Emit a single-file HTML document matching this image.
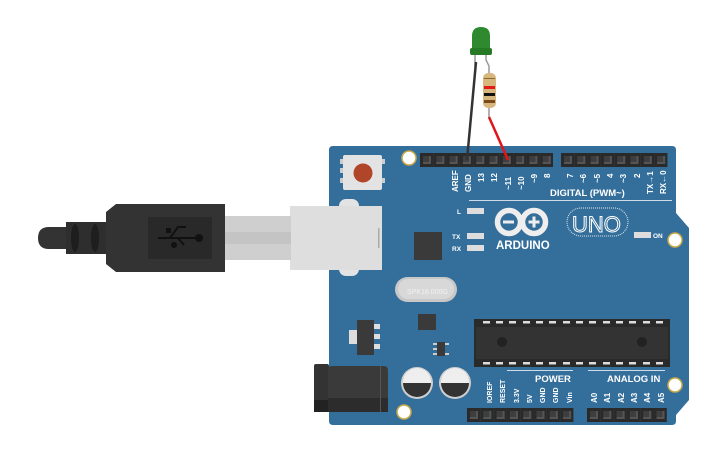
<!DOCTYPE html>
<html><head><meta charset="utf-8"><style>
html,body{margin:0;padding:0;background:#fff;}
svg{display:block;}
text{font-family:"Liberation Sans",sans-serif;font-weight:bold;fill:#fff;}
</style></head><body>
<svg width="725" height="453" viewBox="0 0 725 453" xmlns="http://www.w3.org/2000/svg">
<defs>
<g id="pin"><rect x="0" y="0" width="13.3" height="14" fill="#2a2a2a"/><rect x="3" y="3" width="8" height="8" fill="#3e3e3e"/><rect x="3" y="9" width="8" height="2" fill="#555"/><rect x="9" y="3" width="2" height="8" fill="#555"/></g>
</defs>
<!-- board -->
<path d="M333,146 L672,146 Q676,146 676,150 L676,213 L689,228 L689,400 L676,415 L676,421 Q676,425 672,425 L333,425 Q329,425 329,421 L329,150 Q329,146 333,146 Z" fill="#346f9b"/>
<g fill="#fff" stroke="#c9a84a" stroke-width="1.5">
<circle cx="409" cy="158" r="7"/><circle cx="675" cy="240" r="7"/><circle cx="675" cy="385" r="7"/><circle cx="404" cy="412" r="7"/>
</g>
<!-- reset button -->
<rect x="340" y="159" width="4" height="5" fill="#ccc"/><rect x="340" y="168" width="4" height="5" fill="#ccc"/><rect x="340" y="178" width="4" height="5" fill="#ccc"/>
<rect x="381" y="159" width="4" height="5" fill="#ccc"/><rect x="381" y="178" width="4" height="5" fill="#ccc"/>
<rect x="343" y="155" width="39" height="35" rx="2" fill="#e3e3e3"/>
<circle cx="363" cy="173" r="9.5" fill="#b1452a"/>
<!-- usb jack -->
<rect x="339" y="199" width="20" height="14" rx="7" fill="#e3e3e3"/>
<rect x="339" y="262" width="20" height="14" rx="7" fill="#e3e3e3"/>
<rect x="290" y="206" width="92" height="64" fill="#dedede"/>
<rect x="378" y="228" width="1.5" height="20" fill="#aaa"/>
<!-- usb plug -->
<rect x="225" y="216" width="66" height="44" fill="#cfcfcf"/>
<rect x="225" y="232" width="66" height="12" fill="#c4c4c4"/>
<path d="M38,238 Q38,227 49,227 L70,227 L70,249 L49,249 Q38,249 38,238Z" fill="#333"/>
<rect x="66" y="222" width="42" height="32" fill="#2e2e2e"/>
<ellipse cx="75" cy="238" rx="4" ry="14" fill="#1e1e1e"/><ellipse cx="95" cy="238" rx="4" ry="14" fill="#1e1e1e"/>
<path d="M106,212 L116,204 L225,204 L225,272 L116,272 L106,264 Z" fill="#333"/>
<rect x="148" y="217" width="64" height="42" fill="#292929"/>
<path d="M158,238 L200,238 M170,238 L178,227 L186,227 M178,238 L184,245" stroke="#111" stroke-width="2" fill="none"/>
<circle cx="199" cy="238" r="4" fill="#111"/><circle cx="174" cy="245" r="3" fill="#111"/><rect x="166" y="228" width="5" height="5" fill="#111"/>
<!-- headers top -->
<g transform="translate(420,153)">
<use href="#pin" x="0"/><use href="#pin" x="13.3"/><use href="#pin" x="26.6"/><use href="#pin" x="39.9"/><use href="#pin" x="53.2"/><use href="#pin" x="66.5"/><use href="#pin" x="79.8"/><use href="#pin" x="93.1"/><use href="#pin" x="106.4"/><use href="#pin" x="119.7"/>
</g>
<g transform="translate(561,153)">
<use href="#pin" x="0"/><use href="#pin" x="13.3"/><use href="#pin" x="26.6"/><use href="#pin" x="39.9"/><use href="#pin" x="53.2"/><use href="#pin" x="66.5"/><use href="#pin" x="79.8"/><use href="#pin" x="93.1"/>
</g>
<g font-size="8">
<text transform="translate(458,192) rotate(-90)">AREF</text>
<text transform="translate(471,192) rotate(-90)">GND</text>
<text transform="translate(484,182) rotate(-90)">13</text>
<text transform="translate(497,182) rotate(-90)">12</text>
<text transform="translate(511,190) rotate(-90)">~11</text>
<text transform="translate(524,190) rotate(-90)">~10</text>
<text transform="translate(537,183) rotate(-90)">~9</text>
<text transform="translate(550,178) rotate(-90)">8</text>
<text transform="translate(573,178) rotate(-90)">7</text>
<text transform="translate(586,183) rotate(-90)">~6</text>
<text transform="translate(600,183) rotate(-90)">~5</text>
<text transform="translate(613,178) rotate(-90)">4</text>
<text transform="translate(626,183) rotate(-90)">~3</text>
<text transform="translate(640,178) rotate(-90)">2</text>
<text transform="translate(653,194) rotate(-90)">TX→1</text>
<text transform="translate(666,194) rotate(-90)">RX←0</text>
</g>
<text x="550" y="196" font-size="9.5">DIGITAL (PWM~)</text>
<rect x="469" y="200" width="203" height="1" fill="#cfdbe6"/>
<g font-size="6.5"><text x="457" y="214">L</text><text x="452" y="239">TX</text><text x="452" y="251">RX</text><text x="653" y="238">ON</text></g>
<rect x="467" y="208" width="17" height="6" fill="#ddd"/><rect x="467" y="233" width="17" height="6" fill="#ddd"/><rect x="467" y="245" width="17" height="6" fill="#ddd"/><rect x="634" y="232" width="17" height="6" fill="#ddd"/>
<!-- arduino logo -->
<g fill="none" stroke="#eee" stroke-width="5.5">
<circle cx="509" cy="222" r="11.5"/><circle cx="534" cy="222" r="11.5"/>
</g>
<rect x="503" y="220.5" width="11" height="3" fill="#eee"/><rect x="528.5" y="220.5" width="11" height="3" fill="#eee"/><rect x="532.5" y="216.5" width="3" height="11" fill="#eee"/>
<text x="496" y="249" font-size="11.5">ARDUINO</text>
<rect x="567" y="208" width="61" height="28" rx="14" fill="none" stroke="#e6ecf2" stroke-dasharray="1,1"/>
<text x="572" y="232" font-size="22" style="font-weight:normal;fill:none;stroke:#fff;stroke-width:1">UNO</text>
<!-- chips -->
<rect x="414" y="232" width="28" height="28" fill="#3a3a3a"/>
<rect x="395" y="277" width="62" height="25" rx="12.5" fill="#c8c8c8"/>
<rect x="398" y="279" width="56" height="20" rx="10" fill="#d8d8d8"/>
<text x="407" y="294" font-size="7" style="fill:#f2f2f2;font-weight:normal">SPK16.000G</text>
<rect x="418" y="314" width="18" height="16" fill="#3a3a3a"/>
<rect x="437" y="342" width="8" height="14" fill="#3a3a3a"/>
<g fill="#ccc"><rect x="433" y="343" width="4" height="2"/><rect x="433" y="348" width="4" height="2"/><rect x="433" y="353" width="4" height="2"/><rect x="445" y="343" width="4" height="2"/><rect x="445" y="353" width="4" height="2"/></g>
<!-- main IC -->
<rect x="474" y="319" width="196" height="48" fill="#2a2a2a"/>
<rect x="476" y="327" width="192" height="32" fill="#333"/>
<g fill="#ddd">
<rect x="483" y="321" width="7" height="2.5"/><rect x="496" y="321" width="7" height="2.5"/><rect x="509" y="321" width="7" height="2.5"/><rect x="523" y="321" width="7" height="2.5"/><rect x="536" y="321" width="7" height="2.5"/><rect x="549" y="321" width="7" height="2.5"/><rect x="563" y="321" width="7" height="2.5"/><rect x="576" y="321" width="7" height="2.5"/><rect x="589" y="321" width="7" height="2.5"/><rect x="603" y="321" width="7" height="2.5"/><rect x="616" y="321" width="7" height="2.5"/><rect x="629" y="321" width="7" height="2.5"/><rect x="643" y="321" width="7" height="2.5"/><rect x="656" y="321" width="7" height="2.5"/>
<rect x="483" y="362" width="7" height="2.5"/><rect x="496" y="362" width="7" height="2.5"/><rect x="509" y="362" width="7" height="2.5"/><rect x="523" y="362" width="7" height="2.5"/><rect x="536" y="362" width="7" height="2.5"/><rect x="549" y="362" width="7" height="2.5"/><rect x="563" y="362" width="7" height="2.5"/><rect x="576" y="362" width="7" height="2.5"/><rect x="589" y="362" width="7" height="2.5"/><rect x="603" y="362" width="7" height="2.5"/><rect x="616" y="362" width="7" height="2.5"/><rect x="629" y="362" width="7" height="2.5"/><rect x="643" y="362" width="7" height="2.5"/><rect x="656" y="362" width="7" height="2.5"/>
</g>
<circle cx="502" cy="342" r="5" fill="#222"/><circle cx="642" cy="342" r="5" fill="#222"/>
<!-- regulator -->
<rect x="349" y="330" width="9" height="14" fill="#ddd"/>
<rect x="357" y="320" width="17" height="35" fill="#3a3a3a"/>
<g fill="#ddd"><rect x="374" y="324" width="6" height="5"/><rect x="374" y="334" width="6" height="5"/><rect x="374" y="344" width="6" height="5"/></g>
<!-- DC jack -->
<rect x="314" y="364" width="15" height="48" rx="2" fill="#333"/>
<rect x="314" y="400" width="15" height="12" fill="#222"/>
<rect x="328" y="366" width="60" height="46" rx="4" fill="#3a3a3a"/>
<rect x="328" y="398" width="60" height="14" fill="#2c2c2c"/>
<rect x="380" y="366" width="1" height="46" fill="#555"/>
<!-- capacitors -->
<circle cx="417" cy="383" r="16" fill="#cfcfcf"/><circle cx="417" cy="382" r="14" fill="#eee"/>
<path d="M403,383 A14,14 0 0 0 431,383 Z" fill="#333"/>
<circle cx="455" cy="383" r="16" fill="#cfcfcf"/><circle cx="455" cy="382" r="14" fill="#eee"/>
<path d="M441,383 A14,14 0 0 0 469,383 Z" fill="#333"/>
<!-- bottom headers -->
<g transform="translate(467,408)">
<use href="#pin" x="0"/><use href="#pin" x="13.3"/><use href="#pin" x="26.6"/><use href="#pin" x="39.9"/><use href="#pin" x="53.2"/><use href="#pin" x="66.5"/><use href="#pin" x="79.8"/><use href="#pin" x="93.1"/>
</g>
<g transform="translate(587,408)">
<use href="#pin" x="0"/><use href="#pin" x="13.3"/><use href="#pin" x="26.6"/><use href="#pin" x="39.9"/><use href="#pin" x="53.2"/><use href="#pin" x="66.5"/>
</g>
<rect x="507" y="370" width="66" height="1" fill="#cfdbe6"/><rect x="588" y="370" width="77" height="1" fill="#cfdbe6"/>
<text x="535" y="382" font-size="9.5">POWER</text>
<text x="607" y="382" font-size="9.5">ANALOG IN</text>
<g font-size="7">
<text transform="translate(492,403) rotate(-90)">IOREF</text>
<text transform="translate(505,403) rotate(-90)">RESET</text>
<text transform="translate(519,403) rotate(-90)">3.3V</text>
<text transform="translate(532,403) rotate(-90)">5V</text>
<text transform="translate(545,403) rotate(-90)">GND</text>
<text transform="translate(558,403) rotate(-90)">GND</text>
<text transform="translate(572,403) rotate(-90)">Vin</text>
</g>
<g font-size="8">
<text transform="translate(597,403) rotate(-90)">A0</text>
<text transform="translate(610,403) rotate(-90)">A1</text>
<text transform="translate(624,403) rotate(-90)">A2</text>
<text transform="translate(637,403) rotate(-90)">A3</text>
<text transform="translate(650,403) rotate(-90)">A4</text>
<text transform="translate(664,403) rotate(-90)">A5</text>
</g>
<!-- LED + resistor + wires -->
<path d="M475,55 L475,68" stroke="#999" stroke-width="1.5"/>
<path d="M486,55 L486,60 L489,66 L489,75" stroke="#999" stroke-width="1.5" fill="none"/>
<path d="M489,106 L489,118" stroke="#999" stroke-width="1.5"/>
<path d="M476,62 L467,160" stroke="#333" stroke-width="2.5"/>
<path d="M489,117 L508,160" stroke="#e0161b" stroke-width="2.5"/>
<path d="M472,50 L472,36 Q472,27 481,27 Q490,27 490,36 L490,50 Z" fill="#2f8a2f"/>
<rect x="470" y="48" width="22" height="7" rx="2" fill="#267a26"/>
<rect x="483" y="73" width="13" height="35" rx="5" fill="#d7b77e"/>
<rect x="484" y="78" width="11" height="1" fill="#8a6a2a"/>
<rect x="484" y="86" width="11" height="3" fill="#e21a1a"/>
<rect x="484" y="93" width="11" height="3" fill="#111"/>
<rect x="484" y="100" width="11" height="3" fill="#7a4a1a"/>
</svg>
</body></html>
